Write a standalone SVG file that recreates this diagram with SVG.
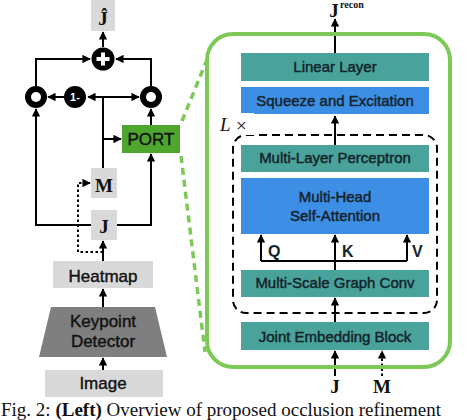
<svg xmlns="http://www.w3.org/2000/svg" width="474" height="420" viewBox="0 0 474 420">
<defs>
<marker id="ah" viewBox="0 0 10 10" refX="9" refY="5" markerWidth="4.2" markerHeight="4.2" orient="auto-start-reverse" markerUnits="strokeWidth">
<path d="M0,0 L10,5 L0,10 Z" fill="#000"/>
</marker>
<style>
.ln{fill:none;stroke:#000;stroke-width:2}
.dot{fill:none;stroke:#000;stroke-width:2;stroke-dasharray:2.5 2.5}
.gd{fill:none;stroke:#7cc957;stroke-width:3.5;stroke-dasharray:7 5}
.gray{fill:#d9d9d9}
.teal{fill:#49a39a}
.blue{fill:#3d8fe6}
.t{font-family:"Liberation Sans",Arial,sans-serif;font-size:15px;fill:#14232b;stroke:#14232b;stroke-width:0.45;text-anchor:middle}
.tl{font-family:"Liberation Sans",Arial,sans-serif;font-size:17px;fill:#111;stroke:#111;stroke-width:0.4;text-anchor:middle}
.m{font-family:"Liberation Serif","Times New Roman",serif;font-weight:bold;font-size:19px;fill:#111;text-anchor:middle}
.qkv{font-family:"Liberation Sans",Arial,sans-serif;font-weight:bold;font-size:16px;fill:#14232b}
</style>
</defs>

<!-- connectors -->
<g id="connectors">
<polyline class="ln" points="36,86 36,59 90,59" marker-end="url(#ah)"/>
<polyline class="ln" points="151,86 151,59 116,59" marker-end="url(#ah)"/>
<line class="ln" x1="103" y1="47" x2="103" y2="32" marker-end="url(#ah)"/>
<line class="ln" x1="64" y1="97" x2="48" y2="97" marker-end="url(#ah)"/>
<line class="ln" x1="88" y1="97" x2="139" y2="97" marker-start="url(#ah)" marker-end="url(#ah)"/>
<line class="ln" x1="103" y1="97" x2="103" y2="168"/>
<line class="ln" x1="103" y1="139" x2="121" y2="139" marker-end="url(#ah)"/>
<polyline class="ln" points="91,225 36,225 36,109" marker-end="url(#ah)"/>
<polyline class="ln" points="117,225 151,225 151,154" marker-end="url(#ah)"/>
<line class="ln" x1="151" y1="125" x2="151" y2="109" marker-end="url(#ah)"/>
<line class="ln" x1="103" y1="261" x2="103" y2="241" marker-end="url(#ah)"/>
<polyline class="dot" points="103,252 78,252 78,183 90,183" marker-end="url(#ah)"/>
<line class="ln" x1="103" y1="307" x2="103" y2="289" marker-end="url(#ah)"/>
<line class="ln" x1="103" y1="370" x2="103" y2="358" marker-end="url(#ah)"/>
<line class="gd" x1="182" y1="121" x2="206" y2="62"/>
<line class="gd" x1="181" y1="156" x2="205" y2="352"/>
<!-- right side -->
<line class="ln" x1="335" y1="53" x2="335" y2="19" marker-end="url(#ah)"/>
<line class="ln" x1="335" y1="145" x2="335" y2="116" marker-end="url(#ah)"/>
<polyline class="ln" points="261,261 407,261"/>
<line class="ln" x1="261" y1="261" x2="261" y2="235" marker-end="url(#ah)"/>
<line class="ln" x1="335" y1="270" x2="335" y2="235" marker-end="url(#ah)"/>
<line class="ln" x1="407" y1="261" x2="407" y2="235" marker-end="url(#ah)"/>
<line class="ln" x1="335" y1="322" x2="335" y2="298" marker-end="url(#ah)"/>
<line class="ln" x1="335" y1="376" x2="335" y2="351" marker-end="url(#ah)"/>
<line class="dot" x1="382" y1="376" x2="382" y2="351" marker-end="url(#ah)"/>
</g>

<!-- left nodes -->
<g id="jhat"><rect class="gray" x="91" y="0" width="24" height="31"/><text class="m" x="103" y="25">Ĵ</text></g>
<g id="plus"><circle cx="103" cy="59" r="11.5" fill="#000"/><path d="M96.5,59 H109.5 M103,52.5 V65.5" stroke="#fff" stroke-width="4"/></g>
<g id="ringL"><circle cx="36" cy="97" r="11" fill="#000"/><circle cx="36" cy="97" r="5" fill="#fff"/></g>
<g id="ringR"><circle cx="151" cy="97" r="11" fill="#000"/><circle cx="151" cy="97" r="5" fill="#fff"/></g>
<g id="oneminus"><circle cx="75" cy="97" r="11" fill="#000"/><text x="75" y="101" font-family="Liberation Sans,Arial,sans-serif" font-weight="bold" font-size="11" fill="#fff" text-anchor="middle">1-</text></g>
<g id="port"><rect x="122" y="125" width="58" height="28" fill="#4fa62f"/><text class="tl" x="151" y="145" font-size="16">PORT</text></g>
<g id="M"><rect class="gray" x="91" y="168" width="26" height="30"/><text class="m" x="104" y="192">M</text></g>
<g id="J"><rect class="gray" x="91" y="210" width="26" height="30"/><text class="m" x="104" y="233">J</text></g>
<g id="heatmap"><rect class="gray" x="53" y="261" width="100" height="27"/><text class="tl" x="103" y="282">Heatmap</text></g>
<g id="keypoint"><polygon points="51,307 155,307 167,357 39,357" fill="#7f7f7f"/><text class="tl" x="103" y="327">Keypoint</text><text class="tl" x="103" y="347">Detector</text></g>
<g id="image"><rect class="gray" x="45" y="370" width="118" height="27"/><text class="tl" x="103" y="389">Image</text></g>

<!-- right module -->
<g id="port-detail">
<rect x="207" y="34" width="243" height="333" rx="26" fill="none" stroke="#7cc957" stroke-width="4"/>
<rect x="233" y="135" width="204" height="178" rx="13" fill="none" stroke="#000" stroke-width="2" stroke-dasharray="8 5"/>
</g>
<g id="jrecon"><text x="334" y="17" class="m" font-size="18">J</text><text x="340" y="8" font-family="Liberation Serif,serif" font-weight="bold" font-size="10" fill="#111">recon</text></g>
<g id="linear"><rect class="teal" x="241" y="53" width="188" height="28"/><text class="t" x="335" y="72">Linear Layer</text></g>
<g id="se"><rect class="blue" x="241" y="87" width="188" height="27"/><text class="t" x="335" y="106">Squeeze and Excitation</text></g>
<g id="lx"><rect x="216" y="113" width="38" height="22" fill="#fff"/><text x="220" y="131" font-family="Liberation Serif,serif" font-style="italic" font-size="19" fill="#111">L</text><text x="236" y="132" font-family="Liberation Serif,serif" font-size="19" fill="#111">×</text></g>
<g id="mlp"><rect class="teal" x="241" y="145" width="188" height="27"/><text class="t" x="335" y="163">Multi-Layer Perceptron</text></g>
<g id="mhsa"><rect class="blue" x="241" y="178" width="188" height="56"/><text class="t" x="335" y="202">Multi-Head</text><text class="t" x="335" y="221">Self-Attention</text></g>
<g id="qkv"><text class="qkv" x="268" y="257">Q</text><text class="qkv" x="342" y="257">K</text><text class="qkv" x="412" y="257">V</text></g>
<g id="msgc"><rect class="teal" x="241" y="270" width="188" height="27"/><text class="t" x="335" y="288">Multi-Scale Graph Conv</text></g>
<g id="jeb"><rect class="teal" x="241" y="322" width="188" height="28"/><text class="t" x="335" y="342">Joint Embedding Block</text></g>
<g id="inJ"><text class="m" x="335" y="393">J</text></g>
<g id="inM"><text class="m" x="382" y="393">M</text></g>

<g id="caption"><text x="1" y="416" font-family="Liberation Serif,'Times New Roman',serif" font-size="19" fill="#111">Fig. 2: <tspan font-weight="bold">(Left)</tspan> Overview of proposed occlusion refinement</text></g>
</svg>
